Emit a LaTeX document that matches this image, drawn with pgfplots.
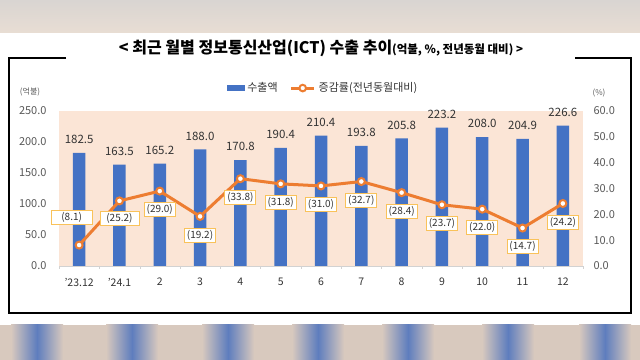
\documentclass[border=0pt]{standalone}
\usepackage{pgfplots}
\pgfplotsset{compat=1.18}
\usepackage{pgfplotstable}
\usepackage{fontspec}
\setmainfont{Noto Sans CJK KR}
\definecolor{barblue}{HTML}{4472C4}
\definecolor{lineor}{HTML}{ED7D31}
\definecolor{peach}{HTML}{FBE5D6}
\definecolor{boxbd}{HTML}{F9C25A}
\definecolor{ticktxt}{HTML}{595959}
\definecolor{lbltxt}{HTML}{333333}
\definecolor{bandbg}{HTML}{D8C9BE}
\definecolor{bandblue}{HTML}{5E7DBE}
\definecolor{topgray}{HTML}{D9D5D2}
\definecolor{topbeige}{HTML}{E8DDD3}
\newcommand{\fs}[1]{\fontsize{#1bp}{#1bp}\selectfont}
\tikzset{boxlbl/.style={draw=boxbd, fill=white, line width=0.8bp, inner sep=0pt,
    minimum width=31bp, minimum height=14bp, font=\fs{10}, text=lbltxt, anchor=center}}

\pgfplotstableread{
x bar rate
0 182.5 8.1
1 163.5 25.2
2 165.2 29.0
3 188.0 19.2
4 170.8 33.8
5 190.4 31.8
6 210.4 31.0
7 193.8 32.7
8 205.8 28.4
9 223.2 23.7
10 208.0 22.0
11 204.9 14.7
12 226.6 24.2
}\data

\begin{document}
\begin{tikzpicture}
\useasboundingbox (0,0) rectangle (640bp,360bp);
\fill[white] (0,0) rectangle (640bp,360bp);
% top band (screen background)
\shade[top color=topgray, bottom color=topbeige] (0,327bp) rectangle (640bp,360bp);
% bottom band
\fill[bandbg] (0,0) rectangle (640bp,35bp);
\foreach \c in {37,132,228,318,408,508,605} {
  \shade[left color=bandbg, right color=bandblue] (\c bp-26bp,0) rectangle (\c bp,35bp);
  \shade[left color=bandblue, right color=bandbg] (\c bp,0) rectangle (\c bp+26bp,35bp);
}
% frame
\draw[line width=1.6bp, black] (66bp,302bp) -- (9bp,302bp) -- (9bp,47bp) -- (631bp,47bp) -- (631bp,302bp) -- (575bp,302bp);
% title
\node[font=\bfseries\fs{16}, text=black] at (321bp,312bp) {< 최근 월별 정보통신산업(ICT) 수출 추이{\fs{11.5}(억불, \%, 전년동월 대비) >}};
% unit labels
\node[font=\fs{8}, text=ticktxt] at (30bp,268bp) {(억불)};
\node[font=\fs{8}, text=ticktxt] at (599bp,267bp) {(\%)};

\begin{axis}[
  at={(59bp,94bp)}, anchor=south west,
  scale only axis, width=524bp, height=155bp,
  xmin=-0.5, xmax=12.5, ymin=0, ymax=250,
  axis background/.style={fill=peach},
  axis line style={draw=none},
  ytick={0,50,...,250}, ytick pos=left,
  xtick={0,...,12}, xtick pos=bottom,
  xticklabels={’23.12,’24.1,2,3,4,5,6,7,8,9,10,11,12},
  major tick length=0pt,
  yticklabel style={font=\fs{11}, text=ticktxt, anchor=east, xshift=-9bp,
    /pgf/number format/.cd, fixed, fixed zerofill, precision=1, assume math mode=true},
  xticklabel style={font=\fs{10.5}, text=lbltxt, anchor=center, yshift=-16bp},
  extra x ticks={-0.5,0.5,...,12.5}, extra x tick labels={},
  extra x tick style={major tick length=3bp, tick align=outside, major tick style={draw=gray!35}},
  clip=false,
]
\draw[gray!35, line width=0.6bp] (rel axis cs:0,0) -- (rel axis cs:1,0);
\addplot[ybar, bar width=12.5bp, fill=barblue, draw=none,
  nodes near coords={\pgfmathprintnumber[fixed,fixed zerofill,precision=1,assume math mode=true]{\pgfplotspointmeta}},
  nodes near coords style={font=\fs{11.5}, text=lbltxt, anchor=center, yshift=13.5bp}]
  table[x=x, y=bar]{\data};
\end{axis}

\begin{axis}[
  at={(59bp,94bp)}, anchor=south west,
  scale only axis, width=524bp, height=155bp,
  xmin=-0.5, xmax=12.5, ymin=0, ymax=60,
  axis line style={draw=none},
  hide x axis,
  ytick={0,10,...,60}, ytick pos=right,
  major tick length=0pt,
  yticklabel style={font=\fs{11}, text=ticktxt, anchor=west, xshift=7bp,
    /pgf/number format/.cd, fixed, fixed zerofill, precision=1, assume math mode=true},
  clip=false,
  legend style={at={(0.504,1.148)}, anchor=center, draw=none, fill=none,
    legend columns=2, font=\fs{11}, text=lbltxt, inner sep=0pt,
    /tikz/every even column/.append style={column sep=10bp},
    /tikz/every odd column/.append style={column sep=1bp}},
  legend cell align=left,
]
\addlegendimage{legend image code/.code={\fill[barblue] (0bp,-2.6bp) rectangle (17bp,2.6bp);}}
\addlegendentry{수출액}
\addlegendimage{legend image code/.code={\draw[lineor, line width=3bp] (0bp,0bp) -- (23bp,0bp); \draw[lineor, fill=white, line width=2bp] (11.5bp,0bp) circle (3.3bp);}}
\addlegendentry{증감률(전년동월대비)}

\addplot[lineor, line width=3bp, mark=*, mark size=3.5bp,
  mark options={fill=white, draw=lineor, line width=2bp}, forget plot]
  table[x=x, y=rate]{\data};

\addplot[draw=none, mark=none, forget plot, restrict x to domain=-0.5:0.5,
  nodes near coords={(\pgfmathprintnumber[fixed,fixed zerofill,precision=1,assume math mode=true]{\pgfplotspointmeta})},
  nodes near coords style={boxlbl, minimum width=41bp, xshift=-7.5bp, yshift=28bp}]
  table[x=x, y=rate]{\data};
\addplot[draw=none, mark=none, forget plot, restrict x to domain=0.5:1.5,
  nodes near coords={(\pgfmathprintnumber[fixed,fixed zerofill,precision=1,assume math mode=true]{\pgfplotspointmeta})},
  nodes near coords style={boxlbl, minimum width=39bp, yshift=-17bp}]
  table[x=x, y=rate]{\data};
\addplot[draw=none, mark=none, forget plot, restrict x to domain=1.5:12.5,
  nodes near coords={(\pgfmathprintnumber[fixed,fixed zerofill,precision=1,assume math mode=true]{\pgfplotspointmeta})},
  nodes near coords style={boxlbl, yshift=-18.5bp}]
  table[x=x, y=rate]{\data};
\end{axis}
\end{tikzpicture}
\end{document}
